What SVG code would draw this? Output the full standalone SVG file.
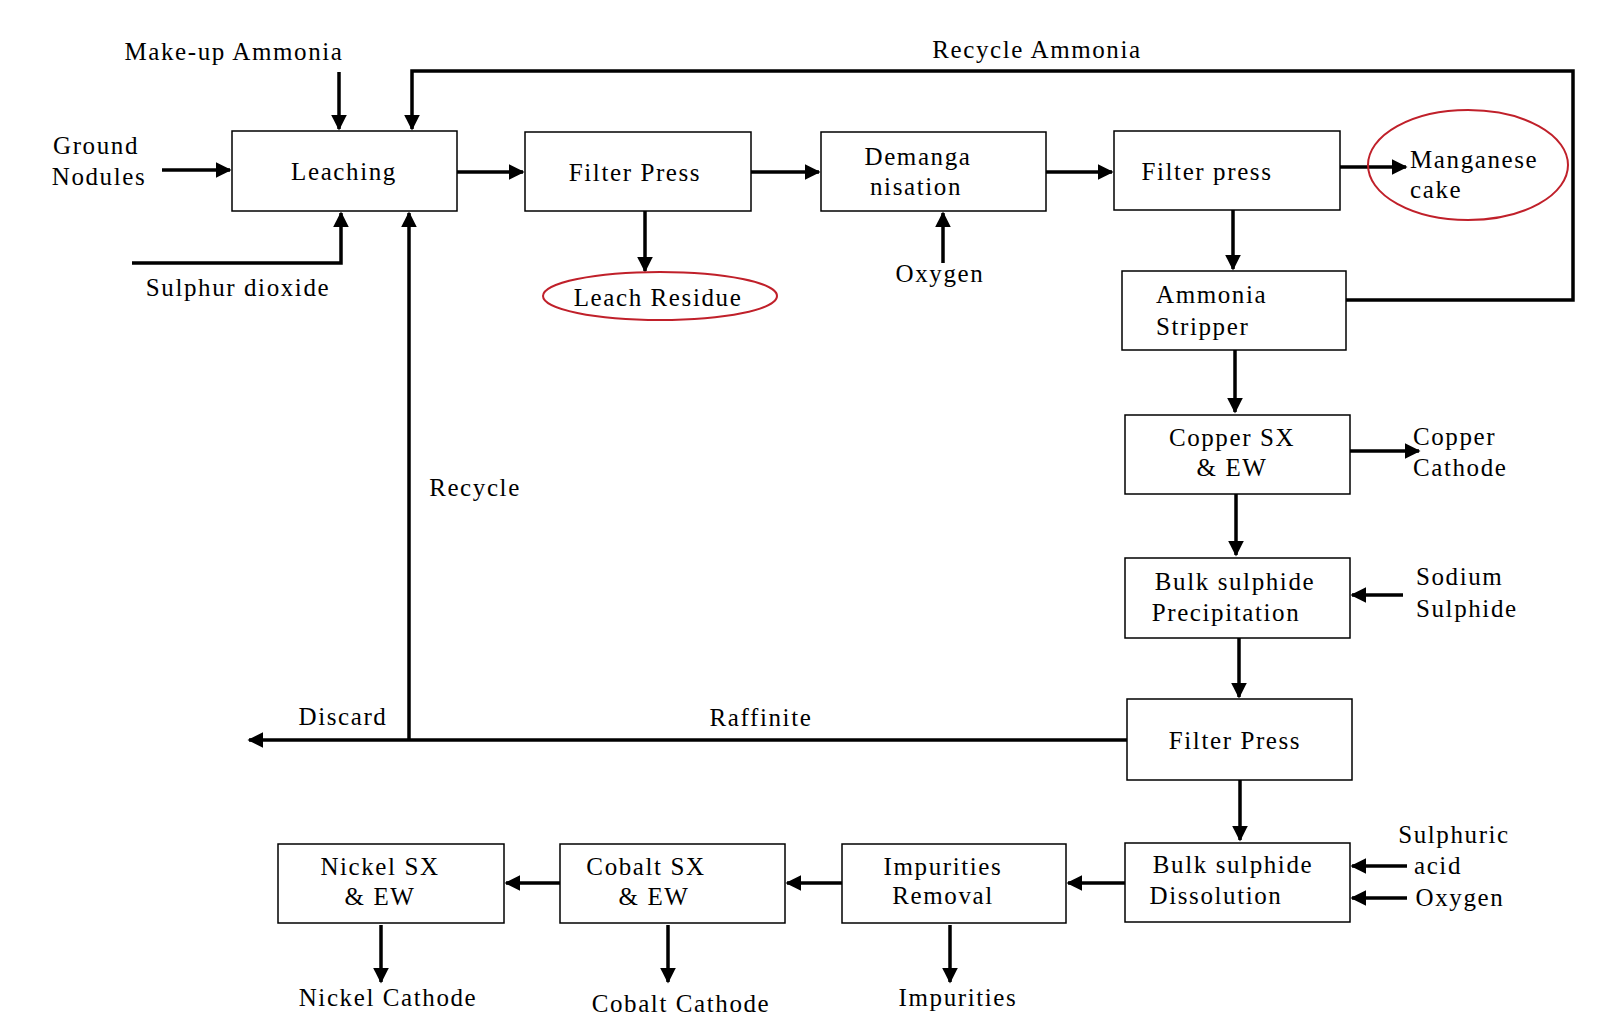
<svg xmlns="http://www.w3.org/2000/svg" width="1612" height="1030" viewBox="0 0 1612 1030">
<style>
text{font-family:"Liberation Serif","Times New Roman",serif;font-size:25px;fill:#000;text-anchor:middle;letter-spacing:1.6px}
.l{text-anchor:start}
.n rect{fill:#fff;stroke:#000;stroke-width:1.5}
ellipse{fill:none;stroke:#c0202a;stroke-width:2}
#connectors path{fill:none;stroke:#000;stroke-width:3.5}
</style>
<defs><marker id="a" viewBox="0 0 10 10" refX="9" refY="5" markerWidth="4.5" markerHeight="4.5" orient="auto" markerUnits="strokeWidth"><path d="M0,0L10,5L0,10Z" fill="#000"/></marker></defs>
<rect width="1612" height="1030" fill="#fff"/>
<g id="connectors">
<path d="M339,72V129" marker-end="url(#a)"/>
<path d="M162,170H230" marker-end="url(#a)"/>
<path d="M132,263H341V213" marker-end="url(#a)"/>
<path d="M1346,300H1573V71H412V129" marker-end="url(#a)"/>
<path d="M457,172H523" marker-end="url(#a)"/>
<path d="M751,172H819" marker-end="url(#a)"/>
<path d="M1046,172H1112" marker-end="url(#a)"/>
<path d="M1340,167H1406" marker-end="url(#a)"/>
<path d="M645,211V271" marker-end="url(#a)"/>
<path d="M943,263V213" marker-end="url(#a)"/>
<path d="M1233,210V269" marker-end="url(#a)"/>
<path d="M1235,350V412" marker-end="url(#a)"/>
<path d="M1350,451H1419" marker-end="url(#a)"/>
<path d="M1236,494V555" marker-end="url(#a)"/>
<path d="M1403,595H1352" marker-end="url(#a)"/>
<path d="M1239,638V697" marker-end="url(#a)"/>
<path d="M1127,740H249" marker-end="url(#a)"/>
<path d="M409,740V213" marker-end="url(#a)"/>
<path d="M1240,780V840" marker-end="url(#a)"/>
<path d="M1407,866H1352" marker-end="url(#a)"/>
<path d="M1407,898H1352" marker-end="url(#a)"/>
<path d="M1125,883H1068" marker-end="url(#a)"/>
<path d="M842,883H787" marker-end="url(#a)"/>
<path d="M560,883H506" marker-end="url(#a)"/>
<path d="M381,925V982" marker-end="url(#a)"/>
<path d="M668,925V982" marker-end="url(#a)"/>
<path d="M950,925V982" marker-end="url(#a)"/>
</g>
<g id="leaching" class="n"><rect x="232" y="131" width="225" height="80"/><text x="344" y="180">Leaching</text></g>
<g id="filterpress1" class="n"><rect x="525" y="132" width="226" height="79"/><text x="635" y="181">Filter Press</text></g>
<g id="demang" class="n"><rect x="821" y="132" width="225" height="79"/><text x="918" y="165">Demanga</text><text x="916" y="195">nisation</text></g>
<g id="filterpress2" class="n"><rect x="1114" y="131" width="226" height="79"/><text x="1207" y="180">Filter press</text></g>
<g id="manganese"><ellipse cx="1468" cy="165" rx="100" ry="55"/><text class="l" x="1410" y="168">Manganese</text><text class="l" x="1410" y="198">cake</text></g>
<g id="leachresidue"><ellipse cx="660" cy="296" rx="117" ry="24"/><text x="658" y="306">Leach Residue</text></g>
<g id="stripper" class="n"><rect x="1122" y="271" width="224" height="79"/><text class="l" x="1156" y="303">Ammonia</text><text class="l" x="1156" y="335">Stripper</text></g>
<g id="copper" class="n"><rect x="1125" y="415" width="225" height="79"/><text x="1232" y="446">Copper SX</text><text x="1232" y="476">&amp; EW</text></g>
<g id="bulkprecip" class="n"><rect x="1125" y="558" width="225" height="80"/><text x="1235" y="590">Bulk sulphide</text><text x="1226" y="621">Precipitation</text></g>
<g id="filterpress3" class="n"><rect x="1127" y="699" width="225" height="81"/><text x="1235" y="749">Filter Press</text></g>
<g id="bulkdiss" class="n"><rect x="1125" y="843" width="225" height="79"/><text x="1233" y="873">Bulk sulphide</text><text x="1216" y="904">Dissolution</text></g>
<g id="impurities" class="n"><rect x="842" y="844" width="224" height="79"/><text x="943" y="875">Impurities</text><text x="943" y="904">Removal</text></g>
<g id="cobalt" class="n"><rect x="560" y="844" width="225" height="79"/><text x="646" y="875">Cobalt SX</text><text x="654" y="905">&amp; EW</text></g>
<g id="nickel" class="n"><rect x="278" y="844" width="226" height="79"/><text x="380" y="875">Nickel SX</text><text x="380" y="905">&amp; EW</text></g>
<g id="labels">
<text x="234" y="60">Make-up Ammonia</text>
<text x="1037" y="58">Recycle Ammonia</text>
<text x="96" y="154">Ground</text><text x="99" y="185">Nodules</text>
<text x="238" y="296">Sulphur dioxide</text>
<text x="940" y="282">Oxygen</text>
<text class="l" x="1413" y="445">Copper</text><text class="l" x="1413" y="476">Cathode</text>
<text class="l" x="1416" y="585">Sodium</text><text class="l" x="1416" y="617">Sulphide</text>
<text x="475" y="496">Recycle</text>
<text x="343" y="725">Discard</text>
<text x="761" y="726">Raffinite</text>
<text x="1454" y="843">Sulphuric</text><text x="1438" y="874">acid</text><text x="1460" y="906">Oxygen</text>
<text x="388" y="1006">Nickel Cathode</text>
<text x="681" y="1012">Cobalt Cathode</text>
<text x="958" y="1006">Impurities</text>
</g>
</svg>
